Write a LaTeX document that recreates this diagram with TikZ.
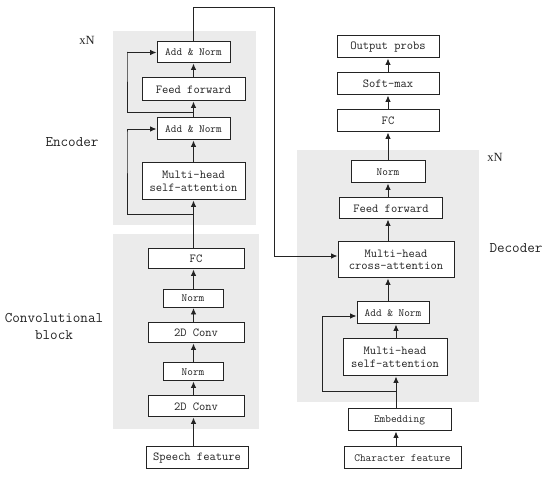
\documentclass[tikz,border=0pt]{standalone}
\usepackage{fontspec}
\newfontfamily\xnfont{Liberation Serif}
\usetikzlibrary{arrows.meta}
\definecolor{panel}{RGB}{235,235,235}
\definecolor{ink}{RGB}{35,35,35}
\tikzset{
  box/.style={draw=ink, line width=1pt, fill=white, inner sep=0pt, text=ink, font=\ttfamily\fontsize{12.2}{12.6}\selectfont, align=center},
  sbox/.style={box, font=\ttfamily\fontsize{11}{12}\selectfont},
  arr/.style={draw=ink, line width=0.9pt, -{Latex[length=6.5pt,width=5.5pt]}},
  ln/.style={draw=ink, line width=0.9pt},
  lbl/.style={text=ink, font=\ttfamily\fontsize{14.7}{17}\selectfont, align=center, inner sep=0pt},
  xn/.style={text=ink, font=\xnfont\fontsize{12.5}{14}\selectfont, inner sep=0pt}
}
\begin{document}
\begin{tikzpicture}[x=1pt,y=-1pt]
\useasboundingbox (0,0) rectangle (550,478);
% panels
\fill[panel] (113,31) rectangle (256,225);
\fill[panel] (113,234) rectangle (259,429);
\fill[panel] (297,150) rectangle (479,402);
% columns
\coordinate (colE) at (193.5,0);
\coordinate (colD) at (388,0);
\coordinate (colL) at (396,0);
% encoder
\node[sbox, minimum width=73pt, minimum height=21pt] (eAN2) at (193.5,52.5) {Add \& Norm};
\node[box, minimum width=103pt, minimum height=23pt] (eFF) at (193.5,89.5) {Feed forward};
\node[sbox, minimum width=73pt, minimum height=22pt] (eAN1) at (193.5,129) {Add \& Norm};
\node[box, minimum width=103pt, minimum height=37pt] (eMHA) at (193.5,181.5) {Multi-head\\self-attention};
% conv block
\node[box, minimum width=96pt, minimum height=20pt] (cFC) at (196,259) {FC};
\node[sbox, minimum width=60pt, minimum height=18pt] (cN2) at (193,298.5) {Norm};
\node[box, minimum width=96pt, minimum height=20pt] (cC2) at (196,333) {2D Conv};
\node[sbox, minimum width=60pt, minimum height=18pt] (cN1) at (193,372) {Norm};
\node[box, minimum width=96pt, minimum height=21pt] (cC1) at (196,406.5) {2D Conv};
\node[box, minimum width=102pt, minimum height=22pt] (speech) at (197,458) {Speech feature};
% decoder
\node[box, minimum width=102pt, minimum height=22pt] (dOut) at (388,47) {Output probs};
\node[box, minimum width=102pt, minimum height=22pt] (dSM) at (388,84) {Soft-max};
\node[box, minimum width=102pt, minimum height=22pt] (dFC) at (388,121) {FC};
\node[sbox, minimum width=74pt, minimum height=22pt] (dNorm) at (388,172) {Norm};
\node[box, minimum width=103pt, minimum height=21pt] (dFF) at (391,208.5) {Feed forward};
\node[box, minimum width=116pt, minimum height=36pt] (dCross) at (396,260) {Multi-head\\cross-attention};
\node[sbox, minimum width=72pt, minimum height=22pt] (dAN) at (393,313) {Add \& Norm};
\node[box, minimum width=104pt, minimum height=37pt] (dMHA) at (395,357.5) {Multi-head\\self-attention};
\node[sbox, minimum width=103pt, minimum height=22pt] (dEmb) at (399.5,420) {Embedding};
\node[sbox, minimum width=117pt, minimum height=22pt] (dChar) at (402.5,458) {Character feature};
% labels
\node[xn] (xnE) at (87,40) {xN};
\node[lbl] (encL) at (72,142) {Encoder};
\node[lbl] (convL) at (54,326) {Convolutional\\block};
\node[xn] (xnD) at (495,157) {xN};
\node[lbl] (decL) at (516,248) {Decoder};
% encoder arrows
\draw[arr] (speech.north -| colE) -- (cC1.south -| colE);
\draw[arr] (cC1.north -| colE) -- (cN1.south -| colE);
\draw[arr] (cN1.north -| colE) -- (cC2.south -| colE);
\draw[arr] (cC2.north -| colE) -- (cN2.south -| colE);
\draw[arr] (cN2.north -| colE) -- (cFC.south -| colE);
\draw[arr] (cFC.north -| colE) -- (eMHA.south -| colE);
\draw[arr] (eMHA.north -| colE) -- (eAN1.south -| colE);
\draw[arr] (eAN1.north -| colE) -- (eFF.south -| colE);
\draw[arr] (eFF.north -| colE) -- (eAN2.south -| colE);
\coordinate (rE1) at (193.5,214);
\coordinate (rE2) at (193.5,112);
\draw[arr] (rE1) -| (127,133) |- (eAN1.west);
\draw[arr] (rE2) -| (127,52) |- (eAN2.west);
% encoder to decoder
\coordinate (topA) at (193.5,7);
\coordinate (topB) at (274,7);
\coordinate (midB) at (274,256);
\draw[arr] (eAN2.north -| colE) -- (topA) -- (topB) -- (midB) -- (midB -| dCross.west);
% decoder arrows
\draw[arr] (dChar.north -| colL) -- (dEmb.south -| colL);
\draw[arr] (dEmb.north -| colL) -- (dMHA.south -| colL);
\draw[arr] (dMHA.north -| colL) -- (dAN.south -| colL);
\draw[arr] (dAN.north -| colD) -- (dCross.south -| colD);
\draw[arr] (dCross.north -| colD) -- (dFF.south -| colD);
\draw[arr] (dFF.north -| colD) -- (dNorm.south -| colD);
\draw[arr] (dNorm.north -| colD) -- (dFC.south -| colD);
\draw[arr] (dFC.north -| colD) -- (dSM.south -| colD);
\draw[arr] (dSM.north -| colD) -- (dOut.south -| colD);
\coordinate (rD) at (396,391);
\draw[arr] (rD) -| (322,316) -- (322,316 -| dAN.west);
\end{tikzpicture}
\end{document}
